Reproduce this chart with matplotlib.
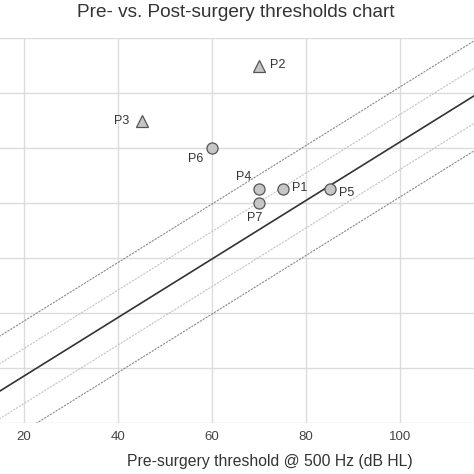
import matplotlib
matplotlib.use("Agg")
import matplotlib.pyplot as plt
import numpy as np

plt.rcParams['font.family'] = ['Liberation Sans', 'DejaVu Sans']

# patients: pre-surgery vs post-surgery threshold at 500 Hz (dB HL)
names = ['P1', 'P2', 'P3', 'P4', 'P5', 'P6', 'P7']
pre = [75, 70, 45, 70, 85, 60, 70]
post = [85, 130, 110, 85, 85, 100, 80]
shape = ['o', '^', '^', 'o', 'o', 'o', 'o']

# reference lines (line of equality and +-10 / +-20 dB bands)
ref_x = [0, 120]
ref_slope = 1.064
ref_icpt = -4.2
ref_offsets = [-20, -10, 0, 10, 20]

x_ticks = [0, 20, 40, 60, 80, 100, 120]
y_ticks = [0, 20, 40, 60, 80, 100, 120, 140]

# label offsets in points (style only)
lab_off = {'P1': (7, 1, 'left'), 'P2': (8, 0, 'left'), 'P3': (-8.5, 0, 'right'),
           'P4': (-5.5, 9, 'right'), 'P5': (7, -3, 'left'), 'P6': (-6.5, -8, 'right'),
           'P7': (-3, -11, 'center')}

fig = plt.figure(figsize=(4.74, 4.74), dpi=100)
ax = fig.add_axes([-70/474, 51/474, 564/474, 385/474])

ax.set_xlim(0, 120)
ax.set_ylim(0, 140)
ax.set_xticks(x_ticks)
ax.set_yticks(y_ticks)
ax.set_xticklabels(['' if t in (0, 120) else str(t) for t in x_ticks])
ax.set_yticklabels([])
ax.grid(True, color='#dcdcdc', lw=1)
ax.set_axisbelow(True)
for s in ax.spines.values():
    s.set_visible(False)
ax.tick_params(length=0, pad=6, labelsize=9.5, labelcolor='#444444')

rx = np.array(ref_x)
for off in ref_offsets:
    ry = ref_slope * rx + ref_icpt + off
    if off == 0:
        ax.plot(rx, ry, color='#333333', lw=1.2, zorder=2)
    elif abs(off) == 10:
        ax.plot(rx, ry, color='#c4c4c4', lw=0.8, ls=(0, (2, 1)), zorder=2)
    else:
        ax.plot(rx, ry, color='#8a8a8a', lw=0.8, ls=(0, (2, 1)), zorder=2)

for n, x, y, m in zip(names, pre, post, shape):
    ax.plot(x, y, marker=m, ms=8, mfc='#c6c6c6', mec='#555555', mew=0.9,
            ls='none', zorder=3)
    dx, dy, ha = lab_off[n]
    ax.annotate(n, (x, y), xytext=(dx, dy), textcoords='offset points',
                ha=ha, va='center', fontsize=9, color='#333333')

ax.set_xlabel('Pre-surgery threshold @ 500 Hz (dB HL)', fontsize=11.3, color='#333333')
ax.xaxis.set_label_coords(340/564, -0.1005)
ax.xaxis.label.set_va('center')

fig.suptitle('Pre- vs. Post-surgery thresholds chart', x=236/474, y=1 - 12.5/474,
             va='center', fontsize=13.7, color='#333333')

fig.savefig('out.png', dpi=100)
